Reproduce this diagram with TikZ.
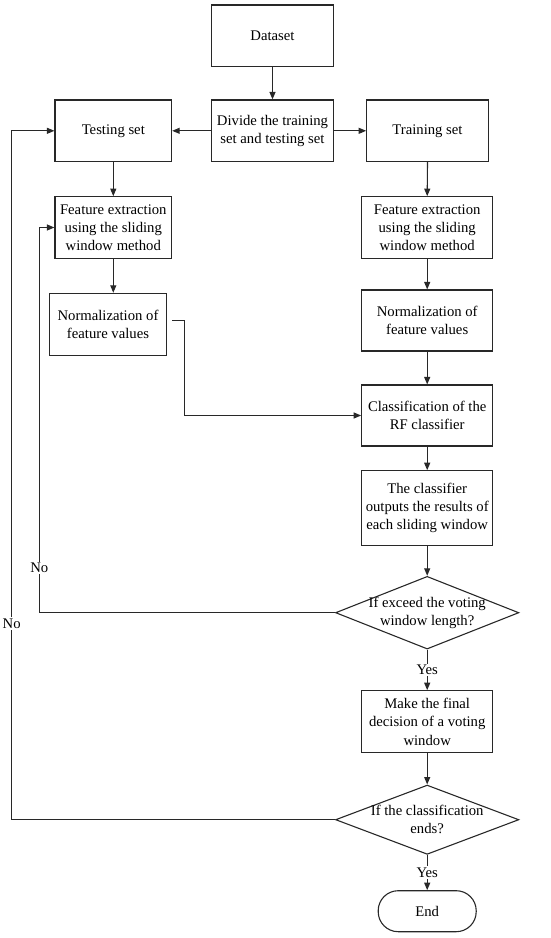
\documentclass[tikz,border=0pt]{standalone}
\usepackage{fontspec}
\setmainfont{Liberation Serif}
\usetikzlibrary{shapes.geometric,arrows.meta}
\definecolor{ln}{RGB}{40,40,40}
\begin{document}
\begin{tikzpicture}[x=1pt,y=-1pt,
  every node/.style={font=\fontsize{14.7pt}{18.3pt}\selectfont},
  box/.style={draw=ln,line width=1.1pt,inner sep=0pt,align=center},
  dia/.style={draw=ln,line width=1.1pt,diamond,inner sep=0pt,minimum width=183.3pt,minimum height=#1},
  term/.style={draw=ln,line width=1.1pt,rounded corners=20pt,inner sep=0pt,align=center,minimum width=98pt,minimum height=41pt},
  lbl/.style={fill=white,inner sep=1.5pt},
  arr/.style={draw=ln,line width=1.1pt,-{Triangle[length=7.5pt,width=6pt]}}]
\useasboundingbox (0,0) rectangle (550,938);
\node[box,minimum width=121.6pt,minimum height=61.7pt] (Data) at (272.5,35.8) {Dataset};
\node[box,minimum width=121.6pt,minimum height=61.7pt] (Div) at (272.5,130.8) {Divide the training\\set and testing set};
\node[box,minimum width=116.7pt,minimum height=61.7pt] (Test) at (113.3,130.8) {Testing set};
\node[box,minimum width=121.6pt,minimum height=61.7pt] (Train) at (427.5,130.8) {Training set};
\node[box,minimum width=116.7pt,minimum height=61.6pt] (FeatL) at (113.3,227.5) {Feature extraction\\using the sliding\\window method};
\node[box,minimum width=131pt,minimum height=61.6pt] (FeatR) at (427.2,227.5) {Feature extraction\\using the sliding\\window method};
\node[box,minimum width=117.4pt,minimum height=61.7pt] (NormL) at (108,324.2) {Normalization of\\feature values};
\node[box,minimum width=131pt,minimum height=61pt] (NormR) at (427.2,320.5) {Normalization of\\feature values};
\node[box,minimum width=131pt,minimum height=61pt] (Class) at (427.2,415.5) {Classification of the\\RF classifier};
\node[box,minimum width=131pt,minimum height=74.3pt] (Out) at (427.2,507.9) {The classifier\\outputs the results of\\each sliding window};
\node[dia=72.7pt] (D1) at (427.2,612.7) {};
\node[align=center] (D1t) at (D1) {If exceed the voting\\window length?};
\node[box,minimum width=131pt,minimum height=62pt] (Final) at (427.2,721.7) {Make the final\\decision of a voting\\window};
\node[dia=69.3pt] (D2) at (427.2,819.7) {};
\node[align=center] (D2t) at (D2) {If the classification\\ends?};
\node[term] (End) at (427.2,911.2) {End};

\draw[arr] (Data) -- (Div);
\draw[arr] (Div) -- (Test);
\draw[arr] (Div) -- (Train);
\draw[arr] (Test) -- (FeatL);
\draw[arr] (Train.south) -- (FeatR.north);
\draw[arr] (FeatL.south) -- (NormL.north -| FeatL.south);
\draw[arr] (FeatR) -- (NormR);
\draw[arr] ([xshift=5pt,yshift=3.5pt]NormL.east) -- ++(12.6,0) |- (Class.west);
\draw[arr] (NormR) -- (Class);
\draw[arr] (Class) -- (Out);
\draw[arr] (Out) -- (D1.north);
\draw[arr] (D1.south) -- node[lbl]{Yes} (Final.north);
\draw[arr] (Final) -- (D2.north);
\draw[arr] (D2.south) -- node[lbl]{Yes} (End.north);
\coordinate (c1) at (39.3,612.7);
\coordinate (c2) at (11.7,819.7);
\draw[arr] (D1.west) -- (c1) -- node[lbl,pos=0.116]{No} (c1 |- FeatL.west) -- (FeatL.west);
\draw[arr] (D2.west) -- (c2) -- node[lbl,pos=0.285]{No} (c2 |- Test.west) -- (Test.west);
\end{tikzpicture}
\end{document}
